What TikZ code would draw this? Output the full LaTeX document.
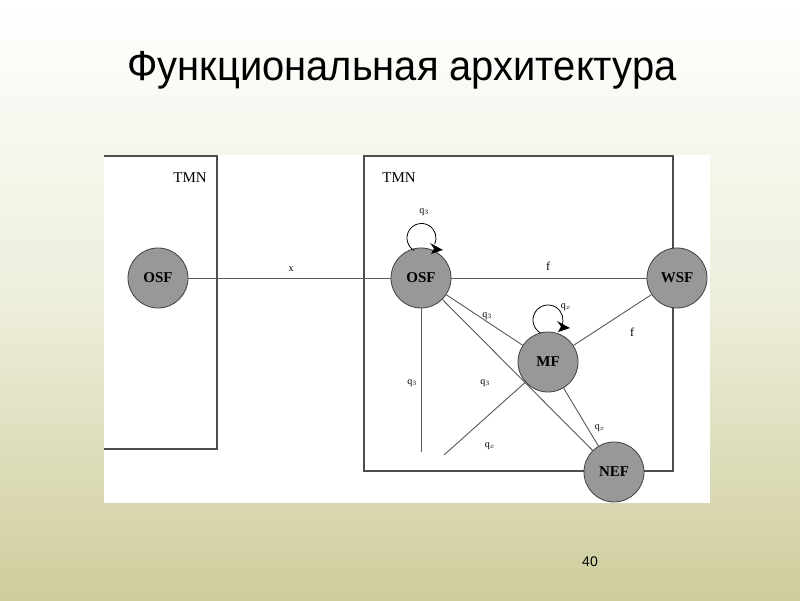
\documentclass[tikz,border=0pt]{standalone}
\usepackage{fontspec}
\setmainfont{Liberation Serif}
\newfontfamily\titlefont{Liberation Sans}
\begin{document}
\begin{tikzpicture}[x=1pt,y=1pt,
  fnode/.style={circle, draw=black!75, line width=0.8pt, fill={rgb,255:red,152;green,152;blue,152}, minimum size=60pt, inner sep=0pt, font=\fontsize{15}{15}\selectfont\bfseries},
  conn/.style={draw=black!65, line width=0.9pt},
  boxline/.style={draw=black!70, line width=1.2pt},
  lbl/.style={font=\fontsize{10}{10}\selectfont, inner sep=0pt},
  tmn/.style={font=\fontsize{15}{15}\selectfont, inner sep=0pt},
  loopline/.style={draw=black, line width=0.8pt}
]
\useasboundingbox (0,0) rectangle (800,600);
\shade[top color=white, bottom color={rgb,255:red,206;green,205;blue,156}, middle color={rgb,255:red,238;green,238;blue,220}] (0,0) rectangle (800,600);
% title
\node[font=\titlefont\fontsize{42}{42}\selectfont, anchor=base] (title) at (402,519) {\scalebox{0.95}[1]{Функциональная архитектура}};
% page number
\node[font=\titlefont\fontsize{14}{14}\selectfont] (pg) at (590,38) {40};
% white panel
\fill[white] (104,97) rectangle (710,445);
% boxes
\draw[boxline] (104,444) -- (217,444) -- (217,151) -- (104,151);
\draw[boxline] (364,129) rectangle (673,444);
\node[tmn] (tmn1) at (190,422) {TMN};
\node[tmn] (tmn2) at (399,422) {TMN};
% coordinates
\coordinate (vend) at (421,148);
\coordinate (fend) at (444,145);
% nodes
\node[fnode] (osf1) at (158,322) {OSF};
\node[fnode] (osf2) at (421,322) {OSF};
\node[fnode] (wsf) at (677,322) {WSF};
\node[fnode] (mf) at (548,238) {MF};
\node[fnode] (nef) at (614,128) {NEF};
% connectors
\draw[conn] (osf1) -- (osf2);
\draw[conn] (osf2) -- (wsf);
\draw[conn] (osf2) -- (mf);
\draw[conn] (osf2) -- (nef);
\draw[conn] (osf2) -- (vend);
\draw[conn] (mf) -- (wsf);
\draw[conn] (mf) -- (nef);
\draw[conn] (mf) -- (fend);
% loops
\draw[loopline] (421.5,362) ++(240:14.5) arc[start angle=240, end angle=-25, radius=14.5];
\fill (443,350) -- (430,357) -- (434,351.5) -- (431,346) -- cycle;
\draw[loopline] (548,280) ++(240:15) arc[start angle=240, end angle=-25, radius=15];
\fill (570,272) -- (557,279) -- (561,273.5) -- (558,268) -- cycle;
% labels
\node[lbl] (lx) at (291,331) {x};
\node[lbl, font=\fontsize{12}{12}\selectfont] (lf1) at (548,334) {f};
\node[lbl] (lq1) at (424,388) {q$_3$};
\node[lbl] (lq2) at (566,293) {q$_x$};
\node[lbl] (lq3) at (487,284) {q$_3$};
\node[lbl, font=\fontsize{12}{12}\selectfont] (lf2) at (632,268) {f};
\node[lbl] (lq4) at (412,217) {q$_3$};
\node[lbl] (lq5) at (485,217) {q$_3$};
\node[lbl] (lq6) at (600,172) {q$_x$};
\node[lbl] (lq7) at (490,154) {q$_x$};
\end{tikzpicture}
\end{document}
